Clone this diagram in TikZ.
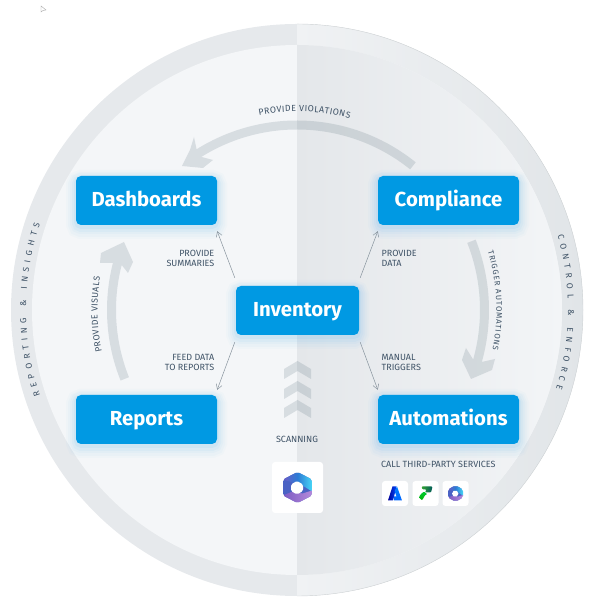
\documentclass[tikz,border=0pt]{standalone}
\usepackage{fontspec}
\setmainfont{Fira Sans}
\usetikzlibrary{arrows.meta,decorations.text}
\definecolor{boxblue}{HTML}{0099E3}
\definecolor{glow}{HTML}{3AA8F0}
\definecolor{lab}{HTML}{3E5266}
\definecolor{ringL}{HTML}{E6E9EC}
\definecolor{ringA}{HTML}{F0F2F4}
\definecolor{ringB}{HTML}{E1E5E8}
\definecolor{innerL}{HTML}{F4F6F8}
\definecolor{innerA}{HTML}{E4E7EA}
\definecolor{innerB}{HTML}{F3F5F7}
\definecolor{thin}{HTML}{87939D}
\definecolor{band}{HTML}{34505F}
\definecolor{m1}{HTML}{4A62C4}
\definecolor{m2}{HTML}{6D5CC6}
\definecolor{m3}{HTML}{2C7BD4}
\definecolor{m4}{HTML}{7C5AC2}
\definecolor{m5}{HTML}{47D6F6}
\definecolor{m6}{HTML}{B48ADB}
\newcommand{\titlefnt}{\bfseries\fontsize{20.3}{22}\selectfont}
\newcommand{\labfnt}{\fontsize{9}{10}\selectfont}
\newcommand{\arcfnt}{\fontsize{8.8}{10}\selectfont}
\newcommand{\tightfnt}{\fontsize{7.9}{10}\selectfont}
\newcommand{\ringfnt}{\fontsize{8.6}{10}\selectfont}
\tikzset{
  x=1pt,y=1pt,
  box/.style={fill=boxblue,rounded corners=5pt,minimum width=141pt,minimum height=49pt,inner sep=0pt,text=white,font=\titlefnt,text height=16pt,text depth=4pt,
    preaction={draw=glow,draw opacity=.025,line width=20pt,transform canvas={yshift=-4pt}},
    preaction={draw=glow,draw opacity=.03,line width=16pt,transform canvas={yshift=-4pt}},
    preaction={draw=glow,draw opacity=.04,line width=12pt,transform canvas={yshift=-3pt}},
    preaction={draw=glow,draw opacity=.05,line width=8pt,transform canvas={yshift=-3pt}},
    preaction={draw=glow,draw opacity=.07,line width=4pt,transform canvas={yshift=-2pt}}},
  lbl/.style={font=\labfnt,text=lab,inner sep=0pt},
  link/.style={draw=thin,line width=.5pt,-{Straight Barb[length=5pt,width=6pt,line width=.5pt]}},
  flow/.style={fill=band,fill opacity=.15},
  tile/.style={fill=white,rounded corners=3pt,inner sep=0pt},
  msicon/.pic={
    \begin{scope}
      \clip[rounded corners=2pt] (0,15.5)--(14.5,8)--(14.5,-8)--(0,-15.5)--(-14.5,-8)--(-14.5,8)--cycle;
      \fill[m1] (-15,-16) rectangle (15,16);
      \shade[left color=m2,right color=m5,middle color=m3] (-14.5,8)--(0,15.5)--(14.5,8)--(14.5,-4)--(5,2)--(-5,5)--cycle;
      \shade[left color=m4,right color=m6] (-14.5,-8)--(-5,-4)--(5,-6)--(14.5,-3)--(14.5,-8)--(0,-15.5)--cycle;
      \fill[white,rounded corners=1.5pt] (-.5,6.5)--(5.5,3)--(5.5,-3.5)--(-.5,-7)--(-6.5,-3.5)--(-6.5,3)--cycle;
    \end{scope}
  }
}
\begin{document}
\begin{tikzpicture}
\useasboundingbox (0,0) rectangle (606,604);
\coordinate (c) at (297,294);
% pointer
\draw[gray!70,line width=.4pt,fill=white] (41,598)--(41,592)--(43,593.5)--(46,594)--cycle;
% disc
\fill[ringL] (c) circle[radius=286];
\shade[left color=ringA,right color=ringB] (297,580) arc[start angle=90,end angle=-90,radius=286] -- cycle;
\draw[ringB!92!black,line width=.4pt] (297,580) arc[start angle=90,end angle=-90,radius=286];
\fill[innerL] (c) circle[radius=265];
\shade[left color=innerA,right color=innerB] (297,559) arc[start angle=90,end angle=-90,radius=265] -- cycle;
% big flow arrows
\fill[flow] ([shift=(51.2:189.5)]c) arc[start angle=51.2,end angle=122,radius=189.5]
  -- (194,467) -- (190,454) -- (182,438) -- (203,436) -- (213,444)
  -- ([shift=(122:180.5)]c) arc[start angle=122,end angle=51.2,radius=180.5] -- cycle;
\fill[flow] ([shift=(21.5:192)]c) arc[start angle=21.5,end angle=-15.7,radius=192]
  -- (495,245) -- (492,234) -- (471,225) -- (462,244) -- (466,256)
  -- ([shift=(-15.7:183)]c) arc[start angle=-15.7,end angle=21.5,radius=183] -- cycle;
\fill[flow] ([shift=(201.8:190)]c) arc[start angle=201.8,end angle=165.6,radius=190]
  -- (100,341) -- (101,351) -- (124,362) -- (133,342) -- (128,331)
  -- ([shift=(165.6:181)]c) arc[start angle=165.6,end angle=201.8,radius=181] -- cycle;
% chevrons
\foreach \a in {243,223,204}
  \fill[flow] (284,\a-8) -- (297.5,\a) -- (311,\a-8) -- (311,\a-18) -- (297.5,\a-10) -- (284,\a-18) -- cycle;
% curved texts
\path[decorate,decoration={text along path,text align={fit to path},text={|\arcfnt\color{lab}|PROVIDE VIOLATIONS}}]
  ([shift=(101:198.5)]c) arc[start angle=101,end angle=74.6,radius=198.5];
\path[decorate,decoration={text along path,text align={fit to path},text={|\tightfnt\color{lab}|TRIGGER AUTOMATIONS}}]
  ([shift=(17:199.5)]c) arc[start angle=17,end angle=-11.5,radius=199.5];
\path[decorate,decoration={text along path,text align={fit to path},text={|\arcfnt\color{lab}|PROVIDE VISUALS}}]
  ([shift=(192.1:199.5)]c) arc[start angle=192.1,end angle=170.5,radius=199.5];
\path[decorate,decoration={text along path,text align={fit to path},text={|\ringfnt\color{lab}|REPORTING {\&} INSIGHTS}}]
  ([shift=(198.5:271)]c) arc[start angle=198.5,end angle=161.5,radius=271];
\path[decorate,decoration={text along path,text align={fit to path},text={|\ringfnt\color{lab}|CONTROL {\&} ENFORCE}}]
  ([shift=(16:271)]c) arc[start angle=16,end angle=-17,radius=271];
% main boxes
\node[box] (dash) at (146.5,403.5) {Dashboards};
\node[box] (comp) at (448.5,403.5) {Compliance};
\node[box] (rep) at (146.5,184.5) {Reports};
\node[box] (auto) at (448.5,184.5) {Automations};
\node[box,minimum width=123pt] (inv) at (297.5,293.5) {Inventory};
% links
\draw[link] ([shift={(-1,8)}]inv.north west) -- ([shift={(0,-6)}]dash.south east);
\draw[link] ([shift={(1,8)}]inv.north east) -- ([shift={(0,-6)}]comp.south west);
\draw[link] ([shift={(-1,-7)}]inv.south west) -- ([shift={(0,5)}]rep.north east);
\draw[link] ([shift={(1,-7)}]inv.south east) -- ([shift={(0,5)}]auto.north west);
% labels
\node[lbl,align=right,anchor=east] (l1) at (214.5,346) {PROVIDE\\SUMMARIES};
\node[lbl,align=right,anchor=east] (l2) at (214.5,242) {FEED DATA\\TO REPORTS};
\node[lbl,align=left,anchor=west] (l3) at (381.5,346) {PROVIDE\\DATA};
\node[lbl,align=left,anchor=west] (l4) at (381.5,242) {MANUAL\\TRIGGERS};
\node[lbl] (l5) at (297,164.5) {SCANNING};
\node[lbl,anchor=west] (l6) at (381,139.5) {CALL THIRD-PARTY SERVICES};
% tiles
\node[tile,minimum width=51pt,minimum height=51pt] (t0) at (297.5,116.5) {};
\node[tile,minimum width=26pt,minimum height=25pt] (t1) at (395,110.5) {};
\node[tile,minimum width=26pt,minimum height=25pt] (t2) at (425.5,110.5) {};
\node[tile,minimum width=26pt,minimum height=25pt] (t3) at (455.5,110.5) {};
\pic at (t0.center) {msicon};
\pic[scale=.52] at (t3.center) {msicon};
% Azure
\begin{scope}[shift={(t1.center)}]
  \shade[left color=blue!60!black,right color=blue!70!cyan] (-7,-7) -- (-2.5,7) -- (1.5,7) -- (-2,-7) -- cycle;
  \shade[top color=cyan!50!blue,bottom color=blue!60!cyan] (2,7) -- (7,-7) -- (-1,-7) -- (-1,-3) -- (1.5,-3) -- (-.2,2) -- cycle;
\end{scope}
% Power Automate style glyph
\begin{scope}[shift={(t2.center)}]
  \shade[left color=green!55!black!80,right color=teal!70!black,rounded corners=1pt] (-4,7) -- (7,7) -- (5.5,1) -- (-.5,1) -- (1,4) -- (-3,4) -- cycle;
  \shade[top color=green!60!teal,bottom color=green!70!black,rounded corners=1pt] (-1.5,2) -- (2,-1) -- (0,-1) -- (-3.5,-7) -- (-6.5,-4) -- (-5,-1) -- cycle;
\end{scope}
\end{tikzpicture}
\end{document}
